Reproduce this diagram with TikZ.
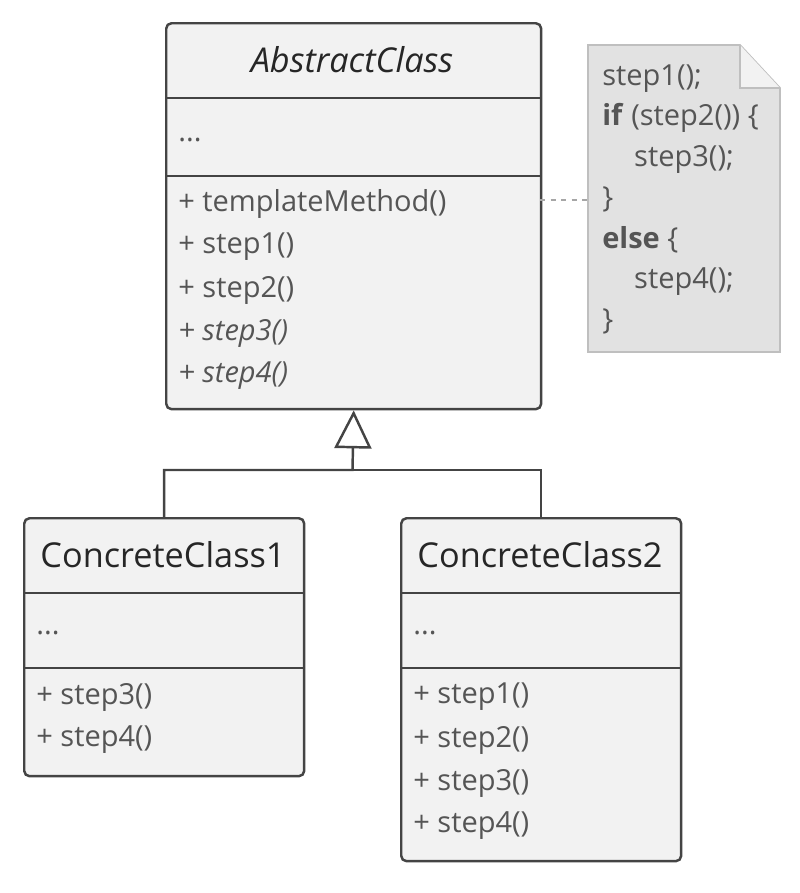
\documentclass[tikz,border=0pt]{standalone}
\usepackage{fontspec}
\setmainfont{Open Sans}
\usetikzlibrary{arrows.meta}
\usetikzlibrary{positioning}
\definecolor{boxfill}{HTML}{F2F2F2}
\definecolor{notefill}{HTML}{E2E2E2}
\definecolor{edge}{HTML}{444444}
\definecolor{txt}{HTML}{555555}
\tikzstyle{classbox} = [rectangle, rounded corners=3pt, draw=edge, line width=1.4pt, fill=boxfill, anchor=north west, inner sep=0pt]
\tikzstyle{member} = [anchor=west, text=txt, font=\fontsize{16.5}{20}\selectfont, inner sep=0pt]
\tikzstyle{title} = [text=black!85, font=\fontsize{19.5}{22}\selectfont]
\tikzstyle{divider} = [draw=edge, line width=1.4pt]
\tikzstyle{arrow} = [edge, line width=1.4pt]

\begin{document}
\begin{tikzpicture}[x=0.02cm, y=-0.02cm]
	\useasboundingbox (0,0) rectangle (800,893);
	% abstract class
	\node (abstract) [classbox, minimum width=7.5cm, minimum height=7.72cm] at (165,22) {};
	\node (abstract_name) [title, font=\fontsize{19.5}{22}\selectfont\itshape] at (352,60) {AbstractClass};
	\draw [divider] (165,98) -- (540,98);
	\draw [divider] (165,176) -- (540,176);
	\node [member] at (178,140) {...};
	\node [member] at (178,204) {+ templateMethod()};
	\node [member] at (178,247) {+ step1()};
	\node [member] at (178,290) {+ step2()};
	\node [member] at (178,333) {\itshape + step3()};
	\node [member] at (178,376) {\itshape + step4()};

	% note
	\node (note) [anchor=north west, minimum width=3.84cm, minimum height=6.14cm, inner sep=0pt] at (588,45) {};
	\draw [draw=black!25, fill=notefill, line width=1pt] (588,45) -- (740,45) -- (780,88) -- (780,352) -- (588,352) -- cycle;
	\draw [draw=black!25, fill=black!5, line width=1pt] (740,45) -- (740,88) -- (780,88);
	\node (note_text) [member, anchor=north west, align=left, font=\fontsize{16.5}{23.2}\selectfont] at (602,64)
		{step1();\\ \textbf{if} (step2()) \{\\ \hspace{1.1em}step3();\\ \}\\ \textbf{else} \{\\ \hspace{1.1em}step4();\\ \}};
	\draw [draw=black!35, dashed, line width=1.2pt] (540,200) -- (note.west |- 0,200);

	% concrete classes
	\node (concrete1) [classbox, minimum width=5.6cm, minimum height=5.16cm] at (23,517) {};
	\node (concrete1_name) [title] at (163,555) {ConcreteClass1};
	\draw [divider] (23,593) -- (303,593);
	\draw [divider] (23,668) -- (303,668);
	\node [member] at (36,633) {...};
	\node [member] at (36,697) {+ step3()};
	\node [member] at (36,740) {+ step4()};

	\node (concrete2) [classbox, minimum width=5.6cm, minimum height=6.86cm] at (400,517) {};
	\node (concrete2_name) [title] at (540,555) {ConcreteClass2};
	\draw [divider] (400,593) -- (680,593);
	\draw [divider] (400,668) -- (680,668);
	\node [member] at (413,633) {...};
	\node [member] at (413,697) {+ step1()};
	\node [member] at (413,740) {+ step2()};
	\node [member] at (413,783) {+ step3()};
	\node [member] at (413,826) {+ step4()};

	% inheritance
	\coordinate (joint) at (352.5,470);
	\draw [arrow, -{Triangle[open, length=0.76cm, width=0.74cm, line width=1.4pt]}] (concrete1.north) |- (joint) -- (abstract.south);
	\draw [arrow] (concrete2.north) |- (joint);
\end{tikzpicture}
\end{document}
